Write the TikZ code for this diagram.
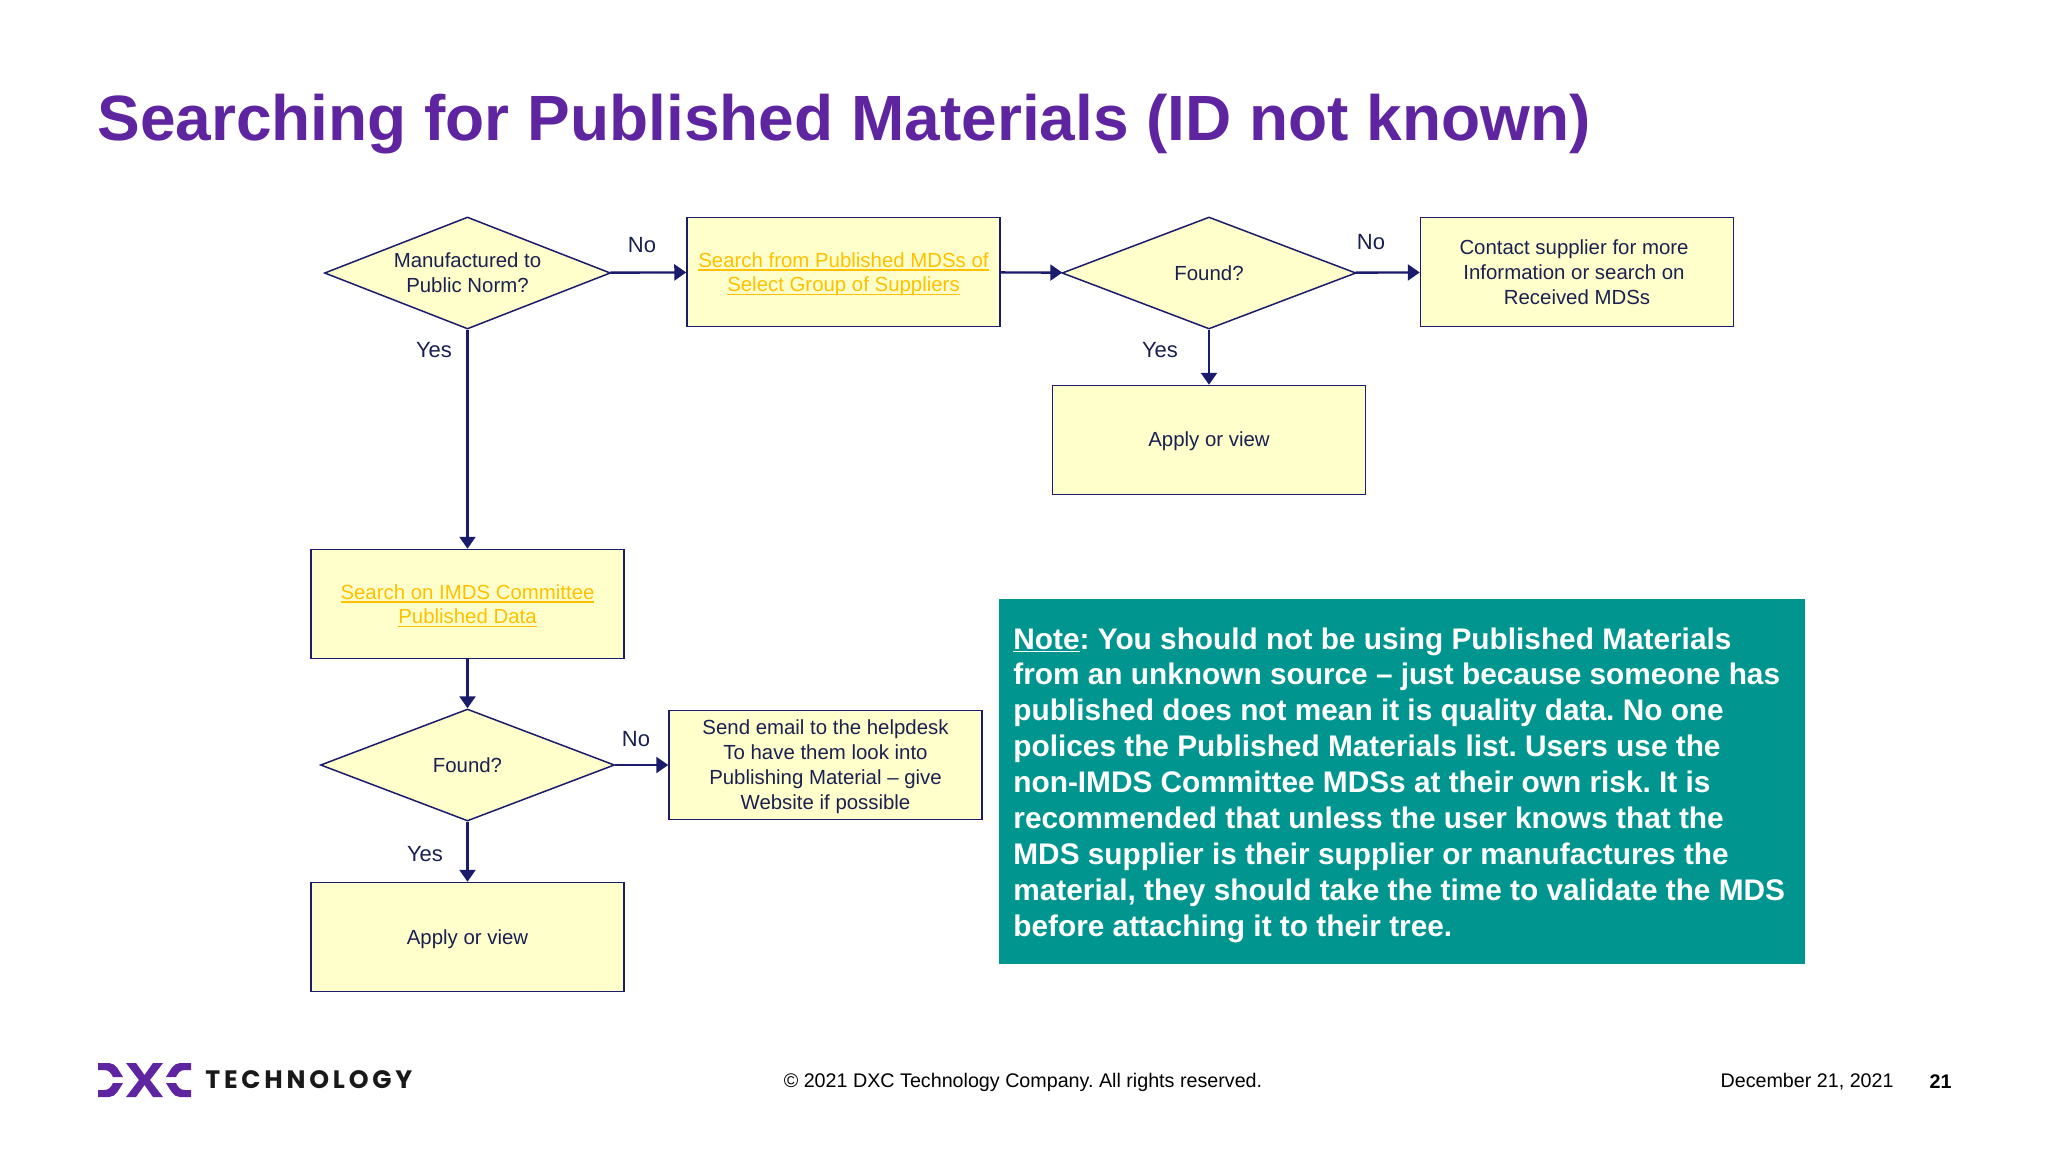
\documentclass[tikz,border=0pt]{standalone}
\usepackage{fontspec}
\setmainfont{Liberation Sans}
\newfontfamily\logofont{Poppins}
\usetikzlibrary{shapes.geometric,arrows.meta}
\AtBeginDocument{\frenchspacing}
\definecolor{navy}{HTML}{1B1B6B}
\definecolor{boxfill}{HTML}{FFFFCC}
\definecolor{linktext}{HTML}{FFC000}
\definecolor{ink}{HTML}{1A2050}
\definecolor{dxcpurple}{HTML}{5F249F}
\definecolor{teal}{HTML}{00968F}
\newsavebox\lnkbox
\newcommand{\lnk}[1]{\sbox\lnkbox{#1}\usebox\lnkbox\llap{\rule[-1.7pt]{\wd\lnkbox}{0.8pt}}}
\newcommand{\shifted}[2]{\raisebox{-#1}[\height][\depth]{\begin{tabular}{@{}c@{}}#2\end{tabular}}}
\tikzset{
  flowbox/.style={draw=navy,fill=boxfill,line width=0.75pt,minimum width=156.5pt,minimum height=54.5pt,inner sep=0pt,align=center,font=\fontsize{10.2}{12.4}\selectfont,text=ink},
  linkbox/.style={flowbox,text=linktext},
  decision/.style={diamond,draw=navy,fill=boxfill,line width=0.75pt,inner sep=0pt,aspect=2.6,align=center,font=\fontsize{10.2}{12.4}\selectfont,text=ink},
  flow/.style={draw=navy,line width=1.2pt,-{Triangle[length=6pt,width=8pt]}},
  tag/.style={font=\fontsize{11}{13}\selectfont,text=ink,inner sep=0pt},
  foot/.style={font=\fontsize{9.85}{12}\selectfont,text=black,inner sep=0pt}
}
\begin{document}
\begin{tikzpicture}[x=0.5pt,y=-0.5pt]
\useasboundingbox (0,0) rectangle (2048,1152);
\fill[white] (0,0) rectangle (2048,1152);
\node[anchor=west,inner sep=0pt,font=\bfseries\fontsize{32}{38}\selectfont,text=dxcpurple] (title) at (97,124) {Searching for Published Materials (ID not known)};

\node[decision,minimum width=143pt,minimum height=56pt] (d1) at (467.5,273) {Manufactured to\\Public Norm?};
\node[linkbox] (b1) at (843.5,272) {\shifted{1.3pt}{\lnk{Search from Published MDSs of}\\\lnk{Select Group of Suppliers}}};
\node[decision,minimum width=147pt,minimum height=56pt] (d2) at (1209,273) {Found?};
\node[flowbox] (b2) at (1577,272) {\shifted{1.3pt}{\hspace*{-3pt}Contact supplier for more\\\hspace*{-3pt}Information or search on\\Received MDSs}};
\node[flowbox] (a1) at (1209,440) {\shifted{1pt}{Apply or view}};
\node[linkbox] (b3) at (467.5,604) {\shifted{1.3pt}{\lnk{Search on IMDS Committee}\\\lnk{Published Data}}};
\node[decision,minimum width=147pt,minimum height=56pt] (d3) at (467.5,765) {Found?};
\node[flowbox] (b4) at (825.5,765) {\shifted{1pt}{Send email to the helpdesk\\To have them look into\\Publishing Material – give\\Website if possible}};
\node[flowbox] (a2) at (467.5,937) {\shifted{1.3pt}{Apply or view}};

\draw[flow] (d1) -- (b1);
\draw[flow] (b1) -- (d2);
\draw[flow] (d2) -- (b2);
\draw[flow] (d2) -- (a1);
\draw[flow] (d1) -- (b3);
\draw[flow] (b3) -- (d3);
\draw[flow] (d3) -- (b4);
\draw[flow] (d3) -- (a2);

\node[tag] (t1) at (642,245) {No};
\node[tag] (t2) at (434,350) {Yes};
\node[tag] (t3) at (1371,242) {No};
\node[tag] (t4) at (1160,350) {Yes};
\node[tag] (t5) at (636,739) {No};
\node[tag] (t6) at (425,854) {Yes};

\node[fill=teal,minimum width=403pt,minimum height=182.5pt,inner sep=0pt] (note) at (1402,781.5) {};
\node[anchor=north west,inner sep=0pt,text=white,align=left,font=\bfseries\fontsize{14.9}{17.95}\selectfont] (notetext) at (1013,627)
{\lnk{Note}: You should not be using Published Materials\\
from an unknown source – just because someone has\\
published does not mean it is quality data. No one\\
polices the Published Materials list. Users use the\\
non-IMDS Committee MDSs at their own risk. It is\\
recommended that unless the user knows that the\\
MDS supplier is their supplier or manufactures the\\
material, they should take the time to validate the MDS\\
before attaching it to their tree.};

% logo
\begin{scope}[dxcpurple]
\fill (98,1063) -- (109,1063) .. controls (116,1063) and (119,1071) .. (123,1077) -- (113,1077) .. controls (111,1073) and (109,1070) .. (104,1070) -- (98,1070) -- cycle;
\fill (98,1097) -- (109,1097) .. controls (116,1097) and (119,1089) .. (123,1083) -- (113,1083) .. controls (111,1087) and (109,1090) .. (104,1090) -- (98,1090) -- cycle;
\fill (191,1063) -- (180,1063) .. controls (173,1063) and (170,1071) .. (166,1077) -- (176,1077) .. controls (178,1073) and (180,1070) .. (185,1070) -- (191,1070) -- cycle;
\fill (191,1097) -- (180,1097) .. controls (173,1097) and (170,1089) .. (166,1083) -- (176,1083) .. controls (178,1087) and (180,1090) .. (185,1090) -- (191,1090) -- cycle;
\fill (126,1063) -- (136,1063) -- (144.5,1075) -- (153,1063) -- (163,1063) -- (150,1080) -- (163,1097) -- (153,1097) -- (144.5,1085) -- (136,1097) -- (126,1097) -- (139,1080) -- cycle;
\end{scope}
\node[anchor=west,inner sep=0pt,font=\logofont\bfseries\fontsize{12.6}{14}\selectfont\addfontfeature{LetterSpace=15},text=black!90] (brand) at (205,1080) {TECHNOLOGY};
\node[foot] (copy) at (1023,1082) {© 2021 DXC Technology Company. All rights reserved.};
\node[foot,anchor=east] (date) at (1894,1082) {December 21, 2021};
\node[foot,anchor=east,font=\bfseries\fontsize{9.85}{12}\selectfont] (page) at (1952,1082) {21};
\end{tikzpicture}
\end{document}
